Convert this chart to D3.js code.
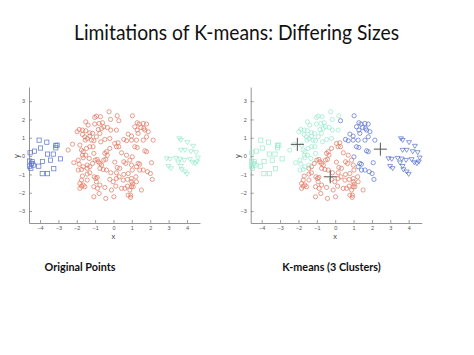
<!DOCTYPE html>
<html><head><meta charset="utf-8">
<script src="https://cdn.jsdelivr.net/npm/d3@7"></script>
<style>body{margin:0;background:#fff}svg{display:block}</style>
</head><body>
<script>
// Group A: blue squares (small left cluster)
const squaresX = [-4.05,-3.63,-4.30,-4.54,-3.97,-3.59,-3.28,-3.14,-3.07,-3.14,-2.89,-4.56,-4.46,-4.37,-4.56,-4.50,-4.07,-3.87,-3.43,-3.25,-3.88,-3.59,-4.41];
const squaresY = [0.87,0.76,0.27,0.18,0.44,0.11,0.11,0.58,0.60,0.45,-0.15,-0.27,-0.40,-0.49,-0.55,-0.67,-0.55,-0.29,-0.22,-0.69,-0.96,-0.96,-0.31];
// Group B: red circles (large middle cluster)
const circlesX = [-0.24,0.20,1.03,-0.93,-1.02,-0.71,-0.60,-0.16,0.29,-1.51,-1.38,-1.02,-0.78,1.29,1.40,1.62,1.80,1.16,1.49,1.65,1.71,1.89,1.29,1.34,-1.87,-1.69,-1.98,-1.51,-1.29,-1.14,-0.83,-0.65,-0.33,0.16,0.80,0.98,1.80,1.62,2.16,0.56,0.71,0.98,1.25,0.25,-0.20,-0.47,-0.69,-1.07,-1.20,-1.43,-1.56,-1.69,-1.29,-0.74,-1.83,-1.74,-1.65,-2.23,-2.47,-2.16,-1.92,-1.87,-1.65,-1.51,-1.32,-1.07,-1.00,-0.89,-0.83,-1.14,-1.29,-1.43,-1.65,-1.74,-1.92,-1.69,-1.74,-1.83,-1.74,-1.65,-1.83,-1.56,-1.43,-1.43,-1.29,-1.05,-0.96,-0.89,-0.93,-1.07,-0.87,-0.74,-0.47,-1.07,-0.78,-0.42,0.02,-0.11,0.13,-0.02,0.16,0.31,-0.20,-0.38,-0.56,-0.65,-0.74,-0.38,-0.47,-0.34,-0.42,0.07,0.20,0.34,0.56,0.67,0.89,1.02,0.98,1.02,0.80,0.76,0.98,1.03,0.98,0.89,0.94,0.80,0.93,1.07,1.25,1.52,1.34,1.43,1.62,1.85,2.07,2.01,2.11,1.25,1.80,1.71,1.29,0.71,0.44,0.16,0.29,-0.20,0.53,0.44,0.62,0.76,1.22,0.98,0.56,0.16,-0.15,-0.53,-0.74,1.16,1.43,-1.29,-1.47,-1.69,-1.43,0.07,-0.15,-0.53,-0.93,-1.54,-1.11];
const circlesY = [2.42,2.20,2.20,2.18,2.11,2.15,1.82,2.00,1.93,1.87,1.69,1.75,1.78,1.82,1.75,1.78,1.75,1.60,1.56,1.51,1.42,1.33,1.42,1.24,1.45,1.42,1.33,1.38,1.27,1.24,1.45,1.51,1.56,1.42,1.20,1.09,1.05,0.87,0.87,0.91,0.84,0.87,0.87,0.73,0.96,0.91,0.78,0.84,0.87,0.96,1.05,1.18,1.09,1.24,0.60,0.33,0.24,0.65,0.33,-0.36,-0.22,-0.44,-0.09,0.05,-0.13,0.15,-0.22,-0.18,-0.31,-0.40,-0.58,-0.67,-0.58,-0.73,-0.76,-1.09,-1.31,-1.49,-1.64,-1.58,-1.76,-1.67,-1.31,-0.98,-0.91,-1.13,-1.22,-1.16,-1.40,-1.67,-1.76,-1.58,-1.71,-2.22,-2.04,-2.31,-2.22,-1.85,-1.64,-1.40,-1.22,-1.13,-1.27,-0.76,-0.73,-0.49,-0.67,0.24,0.15,0.05,-0.18,-0.33,-0.62,-0.67,-0.31,-0.40,-0.22,-0.04,-0.49,-0.76,-0.95,-1.27,-1.40,-1.53,-1.67,-1.85,-2.13,-2.13,-2.25,-1.67,-1.40,-1.85,-0.40,-0.44,-0.76,-0.85,-0.36,-0.95,-1.27,-0.58,0.24,0.29,0.47,0.05,0.18,0.51,0.51,0.42,-1.31,-1.76,-1.76,-1.64,-1.13,-1.22,-1.00,-0.91,-0.91,-0.22,-0.40,0.51,-0.76,0.51,0.42,0.05,-0.49,0.69,1.42,1.60,1.05,0.87,0.51];
// Group C: green triangles (small right cluster)
const trianglesX = [3.58,3.67,4.02,4.34,3.67,3.89,4.22,4.49,2.90,3.08,3.40,3.62,3.86,4.16,4.60,4.55,4.45,2.99,3.13,3.67,3.71,3.89,4.00,3.53,4.31];
const trianglesY = [0.96,0.87,0.75,0.55,0.33,0.33,0.25,0.20,-0.13,-0.16,-0.11,-0.15,-0.22,-0.18,-0.09,-0.31,-0.40,-0.55,-0.67,-0.55,-0.73,-0.85,-0.98,-0.36,-0.35];
// K-means centroids (3 clusters): green, red, blue
const centroidX = [-2.06,-0.27,2.46];
const centroidY = [0.64,-1.13,0.38];
const xTicks = [-4,-3,-2,-1,0,1,2,3,4];
const yTicks = [-3,-2,-1,0,1,2,3];
const titleText = "Limitations of K-means: Differing Sizes";
const panelLabels = ["Original Points","K-means (3 Clusters)"];

const C_RED = "#e0765e", C_BLUE = "#5670cc", C_GREEN = "#97eacc";
const clusterColors = [C_GREEN, C_RED, C_BLUE];

const W = 474, H = 355;
const svg = d3.select("body").append("svg").attr("width", W).attr("height", H);

svg.append("text").attr("x", 236.5).attr("y", 40).attr("text-anchor","middle")
  .attr("font-family","Lato, 'Open Sans', sans-serif").attr("font-size", 21).attr("fill","#111")
  .attr("textLength", 325).attr("lengthAdjust","spacingAndGlyphs")
  .text(titleText);

const points = [];
squaresX.forEach((x,i)=>points.push({x, y:squaresY[i], shape:"square", orig:C_BLUE}));
circlesX.forEach((x,i)=>points.push({x, y:circlesY[i], shape:"circle", orig:C_RED}));
trianglesX.forEach((x,i)=>points.push({x, y:trianglesY[i], shape:"tri", orig:C_GREEN}));
points.forEach(p=>{
  let best=0, bd=Infinity;
  centroidX.forEach((cx,k)=>{const d=(p.x-cx)**2+(p.y-centroidY[k])**2; if(d<bd){bd=d;best=k;}});
  p.km = clusterColors[best];
});

function panel(left, colorKey, showCentroids, label, labelX) {
  const x = d3.scaleLinear().domain([-4.6, 4.71]).range([left, left + 171]);
  const y = d3.scaleLinear().domain([-3.65, 3.77]).range([223, 87]);
  const g = svg.append("g");
  const xa = g.append("g").attr("transform", `translate(0,223)`)
    .call(d3.axisBottom(x).tickValues(xTicks).tickSize(-3).tickPadding(3).tickSizeOuter(0));
  const ya = g.append("g").attr("transform", `translate(${left},0)`)
    .call(d3.axisLeft(y).tickValues(yTicks).tickSize(-3).tickPadding(4).tickSizeOuter(0));
  [xa, ya].forEach(a=>{
    a.select(".domain").attr("stroke","#888").attr("stroke-width",0.9);
    a.selectAll(".tick line").attr("stroke","#888").attr("stroke-width",0.8);
    a.selectAll(".tick text").attr("fill","#555").attr("font-size",5.5).attr("font-family","Arial, 'Liberation Sans', sans-serif");
  });
  g.append("text").attr("x", x(0)).attr("y", 238.5).attr("text-anchor","middle")
    .attr("font-size",7.5).attr("font-family","Arial, 'Liberation Sans', sans-serif").attr("fill","#444").text("x");
  g.append("text").attr("transform",`translate(${left-10.5},${y(0)}) rotate(-90)`).attr("text-anchor","middle")
    .attr("font-size",7.5).attr("font-family","Arial, 'Liberation Sans', sans-serif").attr("fill","#444").text("y");

  const m = g.append("g").attr("fill","none").attr("stroke-width",0.7);
  points.forEach(p=>{
    const px = x(p.x), py = y(p.y), c = p[colorKey];
    if (p.shape==="circle") m.append("circle").attr("cx",px).attr("cy",py).attr("r",2.1).attr("stroke",c);
    else if (p.shape==="square") m.append("rect").attr("x",px-2.1).attr("y",py-2.1).attr("width",4.2).attr("height",4.2).attr("stroke",c);
    else m.append("path").attr("d",`M${px-2.5},${py-1.7}L${px+2.5},${py-1.7}L${px},${py+2.3}Z`).attr("stroke",c);
  });
  if (showCentroids) {
    centroidX.forEach((cx,k)=>{
      const px = x(cx), py = y(centroidY[k]);
      g.append("path").attr("d",`M${px-6.5},${py}H${px+6.5}M${px},${py-6.5}V${py+6.5}`)
        .attr("stroke","#555").attr("stroke-width",1);
    });
  }
  svg.append("text").attr("x", labelX).attr("y", 271).attr("text-anchor","middle")
    .attr("font-family","Lato, 'Open Sans', sans-serif").attr("font-weight","bold").attr("font-size",10.8).attr("fill","#111")
    .text(label);
}
panel(29, "orig", false, panelLabels[0], 80);
panel(250.7, "km", true, panelLabels[1], 331.5);
</script>
</body></html>
